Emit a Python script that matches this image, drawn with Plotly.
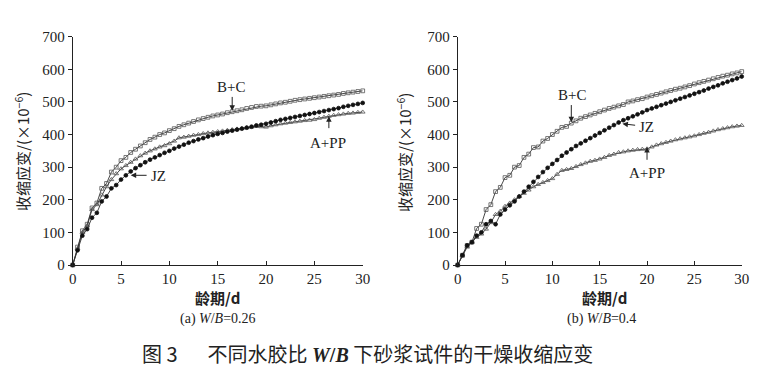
import plotly.graph_objects as go

days = [0, 0.5, 1, 1.5, 2, 2.5, 3, 3.5, 4, 4.5, 5, 5.5, 6, 6.5, 7, 7.5, 8, 8.5, 9, 9.5,
        10, 10.5, 11, 11.5, 12, 12.5, 13, 13.5, 14, 14.5, 15, 15.5, 16, 16.5, 17, 17.5,
        18, 18.5, 19, 19.5, 20, 20.5, 21, 21.5, 22, 22.5, 23, 23.5, 24, 24.5, 25, 25.5,
        26, 26.5, 27, 27.5, 28, 28.5, 29, 29.5, 30]

# (a) W/B = 0.26
a_bc = [0, 55, 105, 125, 175, 190, 235, 250, 285, 300, 320, 330, 345, 355, 365, 375, 385, 392, 400, 405,
        412, 418, 425, 430, 435, 440, 445, 449, 453, 457, 460, 463, 467, 470, 473, 476, 480, 483, 486, 487,
        488, 491, 494, 497, 499, 502, 505, 507, 509, 511, 513, 515, 517, 519, 521, 523, 526, 528, 530, 532, 534]
a_pp = [0, 50, 100, 120, 170, 185, 215, 240, 262, 280, 295, 305, 315, 325, 335, 343, 350, 356, 362, 366,
        372, 380, 390, 392, 395, 398, 400, 403, 405, 407, 409, 411, 413, 415, 417, 419, 421, 423, 425, 424,
        423, 427, 430, 433, 435, 437, 439, 441, 443, 444, 446, 450, 453, 456, 459, 461, 463, 465, 466, 468, 469]
a_jz = [0, 45, 90, 110, 145, 160, 195, 210, 235, 245, 262, 275, 287, 297, 306, 315, 323, 330, 337, 344,
        350, 357, 363, 369, 375, 380, 385, 389, 394, 398, 402, 405, 409, 412, 415, 418, 421, 424, 428, 430,
        433, 437, 441, 445, 448, 451, 454, 457, 460, 463, 466, 469, 472, 475, 478, 481, 485, 488, 491, 494, 497]

# (b) W/B = 0.4
b_bc = [0, 30, 60, 70, 112, 125, 170, 185, 225, 238, 268, 275, 300, 305, 330, 340, 360, 362, 380, 388,
        400, 410, 422, 425, 435, 442, 450, 455, 460, 465, 470, 475, 480, 484, 488, 492, 500, 503, 507, 510,
        515, 519, 523, 527, 531, 535, 539, 542, 546, 550, 555, 559, 563, 567, 571, 575, 579, 582, 586, 589, 593]
b_jz = [0, 30, 60, 70, 90, 100, 125, 135, 125, 155, 170, 183, 195, 210, 225, 240, 255, 270, 285, 298,
        310, 322, 335, 345, 355, 365, 373, 381, 389, 397, 405, 413, 421, 429, 437, 444, 450, 456, 462, 468,
        475, 480, 485, 490, 495, 500, 505, 510, 515, 520, 525, 530, 535, 541, 546, 551, 557, 562, 567, 572, 578]
b_pp = [0, 28, 55, 70, 85, 95, 110, 130, 155, 165, 180, 190, 200, 210, 220, 230, 240, 247, 253, 259,
        265, 278, 290, 293, 296, 302, 308, 313, 318, 321, 325, 330, 336, 340, 345, 347, 350, 352, 354, 355,
        356, 362, 368, 372, 376, 380, 384, 387, 390, 393, 396, 400, 404, 407, 411, 415, 418, 421, 424, 426, 428]

x_ticks = [0, 5, 10, 15, 20, 25, 30]
y_ticks = [0, 100, 200, 300, 400, 500, 600, 700]

W, H = 760, 387
OFF = 8  # page body margin
SERIF = "Liberation Serif"
CJK = "Noto Sans CJK SC"


def px(p):
    return (p - OFF) / W


def py(p):
    return 1 - (p - OFF) / H


fig = go.Figure()

styles = {
    "bc": dict(symbol="square-open", size=3.8, color="#555"),
    "pp": dict(symbol="triangle-up-open", size=4.2, color="#555"),
    "jz": dict(symbol="circle", size=3.8, color="#111"),
}


def add(xa, ya, vals, key):
    fig.add_trace(go.Scatter(
        x=days, y=vals, mode="lines+markers", xaxis=xa, yaxis=ya,
        line=dict(color="#333", width=0.9),
        marker=dict(symbol=styles[key]["symbol"], size=styles[key]["size"],
                    color=styles[key]["color"], line=dict(width=0.8, color=styles[key]["color"])),
        showlegend=False, cliponaxis=False))


add("x", "y", a_bc, "bc")
add("x", "y", a_pp, "pp")
add("x", "y", a_jz, "jz")
add("x2", "y2", b_bc, "bc")
add("x2", "y2", b_pp, "pp")
add("x2", "y2", b_jz, "jz")

ydom = [py(265), py(36.7)]
xd1 = [px(72.7), px(362.7)]
xd2 = [px(457.7), px(741.7)]


def xaxis(dom, anchor):
    return dict(domain=dom, anchor=anchor, range=[0, 30], tickvals=x_ticks, automargin=False,
                showline=True, linecolor="#222", linewidth=1, ticks="inside", ticklen=4,
                tickcolor="#222", showgrid=False, zeroline=False,
                tickfont=dict(family=SERIF, size=15, color="#222"))


def yaxis(anchor):
    return dict(domain=ydom, anchor=anchor, range=[0, 700], tickvals=y_ticks, automargin=False,
                showline=True, linecolor="#222", linewidth=1, ticks="outside", ticklen=4,
                tickcolor="#222", showgrid=False, zeroline=False,
                tickfont=dict(family=SERIF, size=15, color="#222"))


fig.update_layout(
    width=W, height=H, margin=dict(l=0, r=0, t=0, b=0),
    paper_bgcolor="white", plot_bgcolor="white",
    xaxis=xaxis(xd1, "y"), yaxis=yaxis("x"),
    xaxis2=xaxis(xd2, "y2"), yaxis2=yaxis("x2"),
)


def arrow(xr, yr, x, y, ax, ay):
    fig.add_annotation(xref=xr, yref=yr, axref=xr, ayref=yr, x=x, y=y, ax=ax, ay=ay,
                       text="", showarrow=True, arrowhead=2, arrowsize=1.1, arrowwidth=1,
                       arrowcolor="#222")


def label(xr, yr, x, y, t):
    fig.add_annotation(xref=xr, yref=yr, x=x, y=y, text=t, showarrow=False,
                       xanchor="center", yanchor="middle",
                       font=dict(family=SERIF, size=15, color="#222"))


def ptext(x, y, t, font, angle=0):
    fig.add_annotation(xref="paper", yref="paper", x=px(x), y=py(y), text=t,
                       showarrow=False, xanchor="center", yanchor="middle",
                       textangle=angle, font=font)


# panel (a)
label("x", "y", 16.4, 547, "B+C")
arrow("x", "y", 16.5, 473, 16.5, 520)
label("x", "y", 26.4, 373, "A+PP")
arrow("x", "y", 26.5, 456, 26.5, 415)
label("x", "y", 8.9, 272, "JZ")
arrow("x", "y", 6.0, 275, 7.8, 275)

# panel (b)
label("x2", "y2", 12.1, 521, "B+C")
arrow("x2", "y2", 12.0, 438, 12.0, 495)
label("x2", "y2", 19.9, 424, "JZ")
arrow("x2", "y2", 17.4, 433, 18.9, 428)
label("x2", "y2", 20.0, 281, "A+PP")
arrow("x2", "y2", 20.0, 362, 20.0, 318)

ytitle = "收缩应变/(×10<sup>−6</sup>)"
for xp in [22, 404]:
    ptext(xp, 152, ytitle, dict(family=CJK, size=15, color="#222"), angle=-90)

for xp in [217, 604]:
    ptext(xp, 297, "<b>龄期/d</b>", dict(family=CJK, size=15, color="#222"))

ptext(218, 319, "(a) <i>W</i>/<i>B</i>=0.26", dict(family=SERIF, size=14, color="#222"))
ptext(601, 319, "(b) <i>W</i>/<i>B</i>=0.4", dict(family=SERIF, size=14, color="#222"))

ptext(367, 353,
      "图 3\u3000\u2002不同水胶比 <span style=\"font-family:'Liberation Serif'\"><b><i>W</i>/<i>B</i></b></span> 下砂浆试件的干燥收缩应变",
      dict(family=CJK, size=20, color="#222"))

fig.write_html("out.html")
